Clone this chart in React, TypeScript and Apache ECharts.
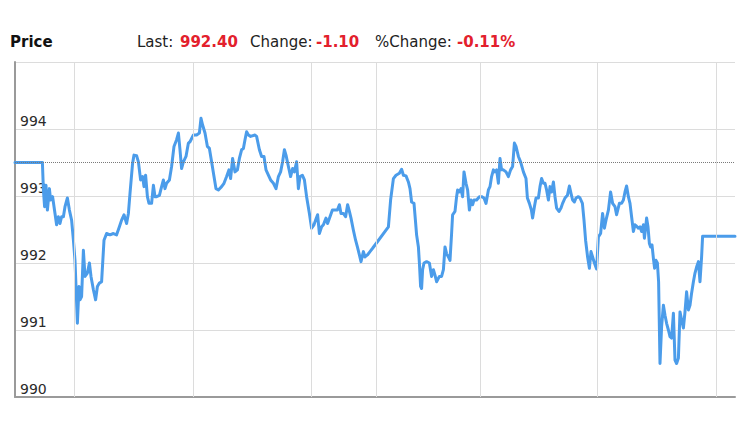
import React, { useEffect, useRef } from "react";
import * as echarts from "echarts";

// minutes from start of session
const times: number[] = [
  0, 13.7, 14.2, 14.8, 15.5, 16.2, 17.2, 17.8, 18.8, 20, 20.8, 21.7, 22.5, 23.3, 24.2, 25, 26.2, 27.2, 28.3, 29.2,
  30, 30.5, 31.2, 32, 32.5, 33.3, 34.2, 35, 36.2, 37.2, 38, 39.2, 40.3, 41.2, 42.2, 43.3, 44.5, 45.8, 47.5, 49.2,
  50.8, 52.2, 53.3, 54.5, 55.8, 56.7, 57.5, 58.8, 59.5, 60.8, 61.7, 62.8, 63.8, 64.5, 65.3, 66.2, 67, 68.3, 69.2, 70,
  70.8, 72.2, 73.3, 74.2, 75, 75.8, 77.2, 78.3, 79.5, 80.8, 81.7, 82.5, 83.3, 84.2, 85.5, 86.7, 87.5, 89.2, 90.8, 92.2,
  93, 93.8, 95, 96.2, 97.2, 98.3, 99.5, 100.5, 101.7, 103.3, 104.5, 105.8, 107, 107.8, 108.8, 110, 111.2, 112.2, 113.3, 114.2,
  115, 115.8, 116.7, 117.8, 120, 120.8, 122.2, 123.3, 124.5, 125.5, 126.7, 127.8, 129.2, 130.5, 131.7, 132.8, 133.8, 134.7, 135.5, 136.7,
  137.8, 138.8, 139.7, 140.8, 141.7, 142.5, 143.7, 144.7, 145.8, 147.2, 148.3, 149.5, 150.3, 151.3, 152.2, 153.3, 154.2, 155.5, 156.3, 157.5,
  158.7, 160, 161.2, 162.2, 163, 164.2, 165.3, 166.3, 167.2, 168, 169.2, 170.3, 171.2, 172.2, 173, 174.2, 175, 176.2, 177.5, 178.8,
  186.7, 187.8, 189.2, 190.5, 192.2, 193.3, 194.2, 195.5, 196.7, 197.5, 198.3, 199.5, 200.2, 200.8, 201.7, 202.2, 202.8, 203.3, 203.8, 204.5,
  205.8, 207.2, 208.3, 209.2, 210, 210.8, 212.2, 213.3, 214.2, 215, 215.8, 216.7, 217.5, 218.3, 218.8, 220, 220.8, 221.3, 222.2, 223,
  223.8, 224.5, 225.5, 226.3, 227.2, 228, 228.8, 229.5, 230.8, 232.2, 233.3, 234.5, 235.5, 236.7, 237.5, 238.3, 239.2, 240, 240.8, 241.7,
  242.5, 243.3, 244.2, 245.5, 246.7, 247.8, 248.8, 249.7, 250.5, 251.7, 252.8, 254.2, 255.5, 256.2, 257.2, 258.2, 258.8, 259.7, 260.5, 261.7,
  262.5, 263.3, 264.2, 265, 265.8, 266.7, 267.5, 268.3, 269.2, 270, 270.8, 272, 273, 273.8, 275, 276.2, 277.2, 278, 278.8, 279.7,
  280.5, 281.7, 282.5, 283.7, 284.5, 285.3, 286.3, 287.2, 288, 288.8, 289.7, 290.8, 291.7, 292.8, 293.8, 294.7, 295.5, 296.7, 297.8, 298.8,
  300, 300.8, 302.2, 303.3, 304.2, 305, 305.8, 306.7, 307.5, 308.3, 309.2, 310, 310.8, 311.7, 312.5, 313.3, 314.2, 314.7, 315.3, 315.8,
  316.5, 317.2, 317.8, 318.5, 319.2, 319.8, 320.5, 321.2, 321.8, 322.5, 323.3, 324.2, 325, 325.8, 326.7, 327.5, 328.3, 329.2, 330, 330.8,
  331.7, 332.5, 333.3, 334.2, 335, 335.8, 336.7, 337.5, 338.3, 339.2, 340, 340.8, 341.7, 342.5, 343.3, 343.8, 360,
];

const prices: number[] = [
  993.5, 993.5, 993.09, 992.84, 993.16, 992.79, 993.11, 992.94, 992.99, 992.74, 992.57, 992.69, 992.59, 992.69, 992.69, 992.84, 992.97, 992.79, 992.64, 992.34,
  992.04, 991.65, 991.1, 991.65, 991.45, 991.5, 992.19, 991.8, 991.85, 992.0, 991.8, 991.6, 991.45, 991.65, 991.7, 991.72, 992.34, 992.44, 992.42, 992.44,
  992.42, 992.54, 992.64, 992.72, 992.59, 992.74, 993.04, 993.49, 993.61, 993.6, 993.51, 993.24, 993.29, 993.14, 993.31, 992.99, 992.89, 992.89, 993.16, 992.99,
  992.99, 993.01, 993.14, 993.24, 993.11, 993.19, 993.24, 993.44, 993.74, 993.84, 993.94, 993.69, 993.41, 993.51, 993.59, 993.79, 993.81, 993.91, 993.91, 993.94,
  994.16, 994.06, 993.94, 993.74, 993.71, 993.51, 993.29, 993.11, 993.09, 993.14, 993.19, 993.29, 993.39, 993.26, 993.56, 993.36, 993.39, 993.56, 993.69, 993.71,
  993.84, 993.96, 993.91, 993.89, 993.91, 993.89, 993.69, 993.59, 993.59, 993.39, 993.31, 993.24, 993.19, 993.11, 993.29, 993.36, 993.51, 993.69, 993.61, 993.44,
  993.29, 993.41, 993.36, 993.51, 993.11, 993.29, 993.31, 993.24, 992.99, 992.74, 992.52, 992.57, 992.64, 992.72, 992.44, 992.54, 992.57, 992.67, 992.59, 992.69,
  992.79, 992.79, 992.79, 992.87, 992.74, 992.74, 992.69, 992.87, 992.77, 992.67, 992.49, 992.34, 992.24, 992.12, 992.02, 992.17, 992.09, 992.12, 992.17, 992.22,
  992.54, 992.94, 993.26, 993.31, 993.34, 993.4, 993.31, 993.3, 993.21, 993.11, 992.91, 992.89, 992.64, 992.42, 992.24, 992.0, 991.65, 991.62, 991.9, 992.0,
  992.02, 992.0, 991.8, 991.9, 991.82, 991.72, 991.8, 991.8, 991.9, 992.24, 992.14, 992.09, 992.04, 992.44, 992.72, 992.77, 992.99, 993.09, 993.06, 993.11,
  992.99, 993.36, 993.19, 993.09, 992.79, 992.94, 992.87, 992.94, 992.94, 992.99, 992.99, 992.97, 992.89, 993.09, 993.14, 993.29, 993.39, 993.36, 993.39, 993.19,
  993.56, 993.39, 993.39, 993.36, 993.29, 993.39, 993.44, 993.79, 993.74, 993.59, 993.51, 993.36, 993.26, 992.97, 992.89, 992.79, 992.67, 992.84, 992.97, 992.97,
  993.14, 993.26, 993.19, 993.19, 993.09, 992.94, 993.14, 993.06, 993.21, 992.99, 992.82, 992.77, 992.82, 992.89, 992.97, 993.01, 993.15, 993.04, 992.94, 992.91,
  992.97, 992.99, 992.97, 992.89, 992.64, 992.34, 992.09, 991.92, 992.17, 992.09, 992.0, 991.91, 992.39, 992.44, 992.74, 992.52, 992.64, 992.79, 993.06, 992.89,
  992.84, 992.72, 992.89, 992.89, 992.94, 993.06, 993.15, 992.99, 992.89, 992.69, 992.47, 992.57, 992.55, 992.52, 992.54, 992.47, 992.57, 992.37, 992.52, 992.67,
  992.54, 992.29, 992.24, 992.27, 992.07, 991.92, 992.04, 992.0, 991.72, 990.5, 991.05, 991.37, 991.22, 991.1, 991.0, 990.9, 990.88, 991.25, 990.55, 990.5,
  990.58, 991.27, 991.15, 991.03, 991.27, 991.57, 991.3, 991.37, 991.55, 991.72, 991.85, 991.94, 992.02, 991.72, 992.09, 992.4, 992.4,
];

// vertical grid positions (minutes)
const gridTimes: number[] = [29.75, 89, 148, 180.5, 232.5, 291, 350.5];
const sessionStart = 0;
const sessionEnd = 360;
const yMin = 990;
const yMax = 995;
const yStep = 1;
const prevClose = 993.5;
const lastPrice = 992.4;
const change = -1.1;
const pctChange = -0.11;

const FONT = "'DejaVu Sans', sans-serif";
const RED = "#e3202c";

export default function App() {
  const ref = useRef<HTMLDivElement>(null);
  useEffect(() => {
    if (!ref.current) return;
    const chart = echarts.init(ref.current, null, { renderer: "svg" });
    const data = times.map((t, i) => [t, prices[i]]);
    const fmt = (v: number) => (v < 0 ? "-" : "") + Math.abs(v).toFixed(2);
    const headerY = 42;
    chart.setOption({
      animation: false,
      backgroundColor: "#ffffff",
      grid: { left: 15, right: 15, top: 62, bottom: 25, containLabel: false },
      xAxis: {
        type: "value",
        min: sessionStart,
        max: sessionEnd,
        axisLabel: { show: false },
        axisTick: { show: false },
        splitLine: { show: false },
        axisLine: { show: true, lineStyle: { color: "#9a9a9a", width: 2 } },
      },
      yAxis: {
        type: "value",
        min: yMin,
        max: yMax,
        interval: yStep,
        axisLine: { show: true, lineStyle: { color: "#9a9a9a", width: 2 } },
        axisTick: { show: false },
        splitLine: { show: true, lineStyle: { color: "#dcdcdc", width: 1 } },
        axisLabel: {
          inside: true,
          margin: 5,
          showMaxLabel: false,
          verticalAlign: "bottom",
          padding: [0, 0, 1, 0],
          color: "#2a2a2a",
          fontFamily: FONT,
          fontSize: 14,
        },
      },
      graphic: [
        { type: "text", x: 10, y: headerY, style: { text: "Price", font: `bold 15px ${FONT}`, fill: "#111", textVerticalAlign: "middle" } },
        { type: "text", x: 137, y: headerY, style: { text: "Last:", font: `15px ${FONT}`, fill: "#222", textVerticalAlign: "middle" } },
        { type: "text", x: 180, y: headerY, style: { text: fmt(lastPrice), font: `bold 15px ${FONT}`, fill: RED, textVerticalAlign: "middle" } },
        { type: "text", x: 250, y: headerY, style: { text: "Change:", font: `15px ${FONT}`, fill: "#222", textVerticalAlign: "middle" } },
        { type: "text", x: 316, y: headerY, style: { text: fmt(change), font: `bold 15px ${FONT}`, fill: RED, textVerticalAlign: "middle" } },
        { type: "text", x: 375, y: headerY, style: { text: "%Change:", font: `15px ${FONT}`, fill: "#222", textVerticalAlign: "middle" } },
        { type: "text", x: 457, y: headerY, style: { text: fmt(pctChange) + "%", font: `bold 15px ${FONT}`, fill: RED, textVerticalAlign: "middle" } },
      ],
      series: [
        {
          type: "line",
          z: 1,
          data,
          symbol: "none",
          silent: true,
          lineStyle: { opacity: 0 },
          markLine: {
            silent: true,
            symbol: "none",
            label: { show: false },
            animation: false,
            lineStyle: { color: "#dcdcdc", type: "solid", width: 1 },
            data: [
              ...gridTimes.map((t) => ({ xAxis: t })),
              { yAxis: prevClose, lineStyle: { color: "#7a7a7a", type: "dotted", width: 1 } },
            ],
          },
        },
        {
          type: "line",
          z: 3,
          data,
          symbol: "none",
          showSymbol: false,
          lineStyle: { color: "#4b9cea", width: 3, join: "round", cap: "round" },
        },
      ],
    });
    return () => chart.dispose();
  }, []);
  return (
    <div
      ref={ref}
      style={{ position: "fixed", left: 0, top: 0, width: 750, height: 422, background: "#fff" }}
    />
  );
}
